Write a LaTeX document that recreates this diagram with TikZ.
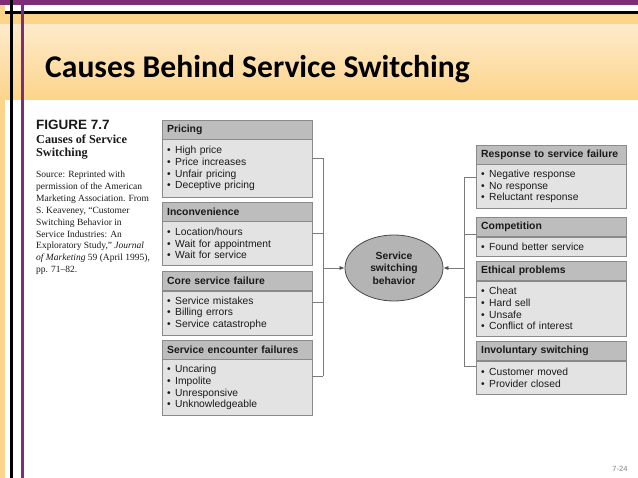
\documentclass[tikz,border=0pt]{standalone}
\usepackage{fontspec}
\setmainfont{Liberation Sans}
\newfontfamily\titlefont{Carlito}
\newfontfamily\serifface{Liberation Serif}
\usetikzlibrary{arrows.meta,shapes.geometric}
\definecolor{hdrgray}{HTML}{BDBDBD}
\definecolor{bodygray}{HTML}{E3E3E3}
\definecolor{edgegray}{HTML}{8A8A8A}
\definecolor{conngray}{HTML}{7A7A7A}
\definecolor{ellfill}{HTML}{B4B4B4}
\definecolor{elledge}{HTML}{4A4A4A}
\definecolor{purp}{HTML}{7E2D78}
\definecolor{orangeA}{HTML}{FCD48A}
\definecolor{orangeL}{HTML}{FEEACA}
\definecolor{txt}{HTML}{1A1A1A}
\newcommand\bitem{\makebox[8pt][l]{\textbullet}}
\tikzset{
  hdr/.style={draw=edgegray, fill=hdrgray, minimum width=150, minimum height=19,
    text width=140, inner xsep=5, inner ysep=0, align=left, anchor=north west,
    text=txt, font=\fontsize{10.4}{12}\selectfont\bfseries},
  bdy/.style={draw=edgegray, fill=bodygray, minimum width=150,
    text width=140, inner xsep=5, inner ysep=0, align=left, anchor=north west,
    text=txt, font=\fontsize{10.3}{11.6}\selectfont},
  conn/.style={draw=conngray, line width=0.7},
  arr/.style={conn, -{Latex[length=5,width=4,color=elledge]}},
  srctext/.style={anchor=north west, inner sep=0, align=left, text=txt,
    font=\serifface\fontsize{9.5}{11.85}\selectfont}
}
\begin{document}
\begin{tikzpicture}[x=1pt,y=-1pt]
\useasboundingbox (0,0) rectangle (638,478);
\fill[white] (0,0) rectangle (638,478);
% decorative band
\fill[orangeA] (0,0) rectangle (5,478);
\fill[orangeA] (0,14) rectangle (638,25);
\shade[top color=orangeL, bottom color=orangeA] (0,25) rectangle (638,100);
\fill[purp] (0,0) rectangle (638,5);
\fill[black] (5,11) rectangle (638,14);
\fill[black] (10,0) rectangle (13,478);
\fill[purp] (21,5) rectangle (24,478);
% title
\node[anchor=base west, inner sep=0, text=black,
  font=\titlefont\bfseries\fontsize{31.6}{32}\selectfont] (title) at (45,78)
  {Causes Behind Service Switching};
% figure caption
\node[anchor=base west, inner sep=0, text=txt,
  font=\bfseries\fontsize{13.5}{14}\selectfont] (fig) at (36,129.5) {FIGURE 7.7};
\node[anchor=north west, inner sep=0, align=left, text=txt,
  font=\serifface\bfseries\fontsize{12.2}{13.5}\selectfont] (cap) at (36,134.5)
  {Causes of Service\\Switching};
\node[srctext] (src) at (36,171)
  {Source: Reprinted with\\permission of the American\\Marketing Association. From\\
   S. Keaveney, “Customer\\Switching Behavior in\\Service Industries: An\\
   Exploratory Study,” \textit{Journal}\\\textit{of Marketing} 59 (April 1995),\\pp. 71–82.};
% left boxes
\node[hdr] (ph) at (162,120) {Pricing};
\node[bdy, minimum height=58] (pb) at (ph.south west)
  {\bitem High price\\\bitem Price increases\\\bitem Unfair pricing\\\bitem Deceptive pricing};
\node[hdr] (ih) at (162,202) {Inconvenience};
\node[bdy, minimum height=44] (ib) at (ih.south west)
  {\bitem Location/hours\\\bitem Wait for appointment\\\bitem Wait for service};
\node[hdr] (ch) at (162,271.5) {Core service failure};
\node[bdy, minimum height=44] (cb) at (ch.south west)
  {\bitem Service mistakes\\\bitem Billing errors\\\bitem Service catastrophe};
\node[hdr] (sh) at (162,340) {Service encounter failures};
\node[bdy, minimum height=56] (sb) at (sh.south west)
  {\bitem Uncaring\\\bitem Impolite\\\bitem Unresponsive\\\bitem Unknowledgeable};
% right boxes
\node[hdr] (rh) at (476,145) {Response to service failure};
\node[bdy, minimum height=44] (rb) at (rh.south west)
  {\bitem Negative response\\\bitem No response\\\bitem Reluctant response};
\node[hdr] (coh) at (476,217.5) {Competition};
\node[bdy, minimum height=19] (cob) at (coh.south west)
  {\bitem Found better service};
\node[hdr] (eh) at (476,261.5) {Ethical problems};
\node[bdy, minimum height=55] (eb) at (eh.south west)
  {\bitem Cheat\\\bitem Hard sell\\\bitem Unsafe\\\bitem Conflict of interest};
\node[hdr] (vh) at (476,341.5) {Involuntary switching};
\node[bdy, minimum height=33] (vb) at (vh.south west)
  {\bitem Customer moved\\\bitem Provider closed};
% ellipse
\node[ellipse, draw=elledge, fill=ellfill, line width=0.8, minimum width=98,
  minimum height=66, inner sep=0, align=center, text=txt,
  font=\fontsize{10.3}{12.5}\selectfont\bfseries] (ell) at (394,268)
  {Service\\switching\\behavior};
% left bracket
\coordinate (L1) at (323,158);
\coordinate (L2) at (323,233);
\coordinate (L3) at (323,302);
\coordinate (L4) at (323,376);
\coordinate (LM) at (323,268);
\draw[conn] (pb.east |- L1) -- (L1);
\draw[conn] (ib.east |- L2) -- (L2);
\draw[conn] (cb.east |- L3) -- (L3);
\draw[conn] (sb.east |- L4) -- (L4);
\draw[conn] (L1) -- (L4);
\draw[arr] (LM) -- (ell.west);
% right bracket
\coordinate (R1) at (464,177);
\coordinate (R2) at (464,234);
\coordinate (R3) at (464,297);
\coordinate (R4) at (464,366);
\coordinate (RM) at (464,268);
\draw[conn] (rb.west |- R1) -- (R1);
\draw[conn] (coh.west |- R2) -- (R2);
\draw[conn] (eb.west |- R3) -- (R3);
\draw[conn] (vb.west |- R4) -- (R4);
\draw[conn] (R1) -- (R4);
\draw[arr] (RM) -- (ell.east);
% page number
\node[anchor=center, inner sep=0, text=gray, font=\fontsize{7.5}{9}\selectfont] (pg) at (620,469) {7-24};
\end{tikzpicture}
\end{document}
